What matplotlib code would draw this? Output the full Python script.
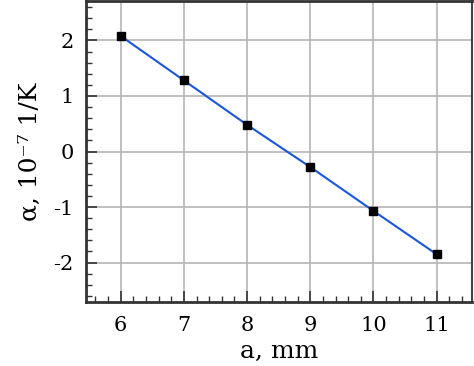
import matplotlib
matplotlib.use("Agg")
import matplotlib.pyplot as plt
from matplotlib.ticker import MultipleLocator

a_mm = [6, 7, 8, 9, 10, 11]
alpha = [2.08, 1.28, 0.48, -0.28, -1.07, -1.85]
xticks = [6, 7, 8, 9, 10, 11]
yticks = [-2, -1, 0, 1, 2]

plt.rcParams['font.family'] = ['DejaVu Serif']
plt.rcParams['mathtext.fontset'] = 'dejavuserif'
plt.rcParams['axes.unicode_minus'] = False

fig = plt.figure(figsize=(4.74, 3.66), dpi=100)
ax = fig.add_axes([86/474, 1-302/366, (472-86)/474, (302-1)/366])

ax.plot(a_mm, alpha, color='#1a56db', lw=1.5, marker='s', ms=6,
        mfc='black', mec='black', zorder=3)

ax.set_xlim(5.45, 11.56)
ax.set_ylim(-2.71, 2.71)
ax.set_xticks(xticks)
ax.set_yticks(yticks)
ax.xaxis.set_minor_locator(MultipleLocator(0.2))
ax.yaxis.set_minor_locator(MultipleLocator(0.2))
ax.grid(True, which='major', color='#b5b5b5', lw=1.2)
ax.tick_params(which='both', direction='in', top=False, right=False, colors='#333333', labelcolor='black', labelsize=15)
ax.tick_params(which='major', length=8, width=1.2)
ax.tick_params(which='minor', length=4, width=1.0)
ax.tick_params(axis='x', pad=10)
ax.tick_params(axis='y', pad=9)
for s in ['left', 'bottom', 'top']:
    ax.spines[s].set_linewidth(2)
    ax.spines[s].set_color('#333333')
ax.spines['right'].set_linewidth(1.5)
ax.spines['right'].set_color('#444444')

ax.set_xlabel('a, mm', fontsize=18, labelpad=4)
ax.set_ylabel('α, 10\u207b\u2077 1/K', fontsize=18, labelpad=8)

fig.savefig('out.png', dpi=100)
